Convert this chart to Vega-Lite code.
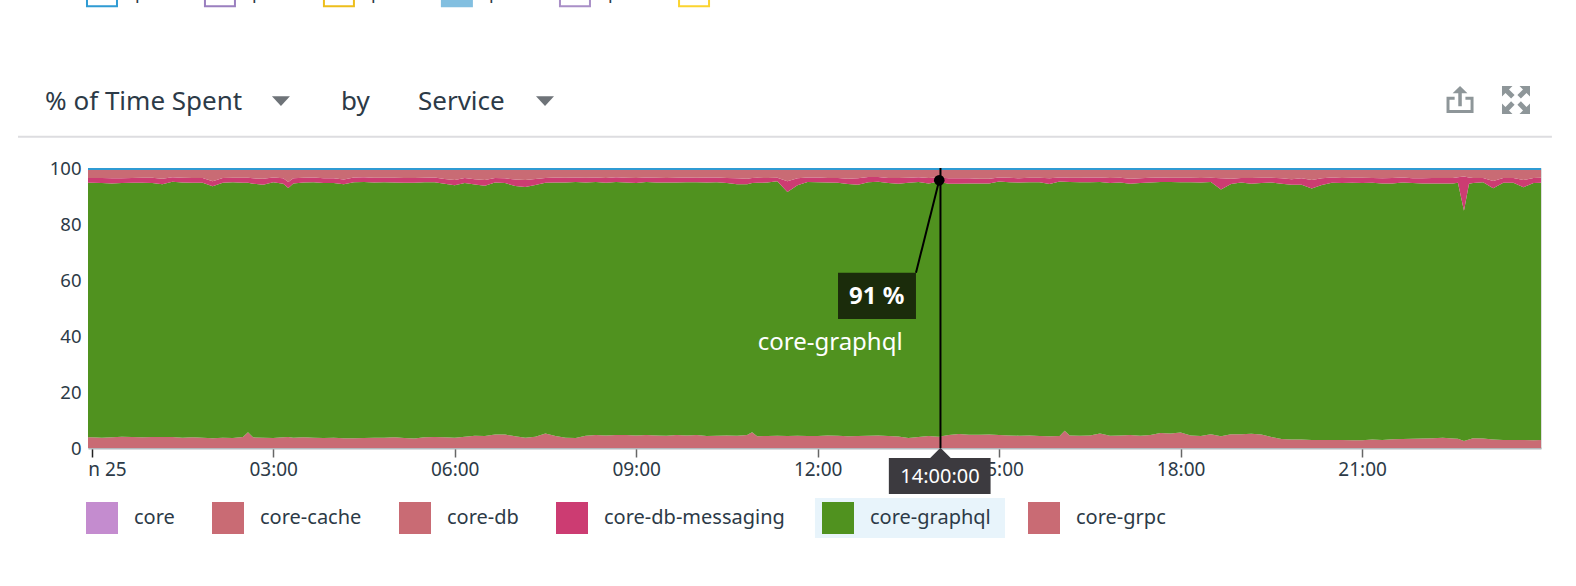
{
  "$schema": "https://vega.github.io/schema/vega-lite/v6.json",
  "autosize": "none",
  "padding": {"left": 88, "top": 168, "right": 35, "bottom": 138},
  "width": 1453,
  "height": 280,
  "encoding": {
    "x": {
      "field": "time",
      "type": "temporal",
      "title": null,
      "scale": {"domain": [
        {"year": 2021, "month": 1, "date": 24, "hours": 23, "minutes": 56, "seconds": 20},
        {"year": 2021, "month": 1, "date": 25, "hours": 23, "minutes": 57, "seconds": 24}
      ]},
      "axis": {
        "values": [
          {"year": 2021, "month": 1, "date": 25, "hours": 0},
          {"year": 2021, "month": 1, "date": 25, "hours": 3},
          {"year": 2021, "month": 1, "date": 25, "hours": 6},
          {"year": 2021, "month": 1, "date": 25, "hours": 9},
          {"year": 2021, "month": 1, "date": 25, "hours": 12},
          {"year": 2021, "month": 1, "date": 25, "hours": 15},
          {"year": 2021, "month": 1, "date": 25, "hours": 18},
          {"year": 2021, "month": 1, "date": 25, "hours": 21}
        ],
        "grid": false,
        "labelExpr": "hours(datum.value) == 0 ? 'n 25' : timeFormat(datum.value, '%H:%M')",
        "labelAlign": {"condition": {"test": "hours(datum.value) == 0", "value": "left"}, "value": "center"},
        "labelOffset": {"condition": {"test": "hours(datum.value) == 0", "value": -4}, "value": 0},
        "labelFont": "Noto Sans",
        "labelFontSize": 19,
        "labelColor": "#2C3A47",
        "labelPadding": 3,
        "labelFlush": false,
        "labelOverlap": false,
        "tickSize": 9,
        "tickWidth": 1.5,
        "tickColor": {"condition": {"test": "hours(datum.value) == 0", "value": "#222222"}, "value": "#666666"},
        "domainColor": "#B4B7BD",
        "domainWidth": 2
      }
    },
    "y": {
      "field": "pct",
      "type": "quantitative",
      "title": null,
      "scale": {"domain": [0, 100], "nice": false},
      "axis": {
        "values": [0, 20, 40, 60, 80, 100],
        "grid": false,
        "domain": false,
        "ticks": false,
        "labelFont": "Noto Sans",
        "labelFontSize": 18.5,
        "labelColor": "#2C3A47",
        "labelPadding": 7,
        "labelFlush": false
      }
    }
  },
  "layer": [
    {
      "data": {"format": {"parse": {"time2": "date"}}, "values": [{"time": "2021-01-25T11:57:18", "time2": "2021-01-25T15:05:48", "pct": -17.9, "pct2": -32.1}]},
      "mark": {"type": "rect", "color": "#E8F4FB", "clip": false},
      "encoding": {"x2": {"field": "time2"}, "y2": {"field": "pct2"}}
    },
    {
      "data": {"values": [
      {"time":"2021-01-24T23:50","core-grpc":3.8,"core-graphql":90.9,"core-db-messaging":1.7,"core-cache":2.9,"all-other":0.7},
      {"time":"2021-01-25T00:00","core-grpc":3.8,"core-graphql":90.9,"core-db-messaging":1.7,"core-cache":2.9,"all-other":0.7},
      {"time":"2021-01-25T00:10","core-grpc":3.7,"core-graphql":90.9,"core-db-messaging":1.8,"core-cache":2.9,"all-other":0.7},
      {"time":"2021-01-25T00:20","core-grpc":3.8,"core-graphql":90.7,"core-db-messaging":1.8,"core-cache":3.0,"all-other":0.7},
      {"time":"2021-01-25T00:30","core-grpc":4.0,"core-graphql":90.6,"core-db-messaging":1.7,"core-cache":3.0,"all-other":0.7},
      {"time":"2021-01-25T00:40","core-grpc":3.9,"core-graphql":90.8,"core-db-messaging":1.7,"core-cache":2.9,"all-other":0.7},
      {"time":"2021-01-25T00:50","core-grpc":3.8,"core-graphql":90.9,"core-db-messaging":1.8,"core-cache":2.8,"all-other":0.7},
      {"time":"2021-01-25T01:00","core-grpc":3.9,"core-graphql":90.7,"core-db-messaging":1.9,"core-cache":2.8,"all-other":0.7},
      {"time":"2021-01-25T01:10","core-grpc":3.9,"core-graphql":90.3,"core-db-messaging":2.0,"core-cache":3.1,"all-other":0.7},
      {"time":"2021-01-25T01:20","core-grpc":3.9,"core-graphql":91.2,"core-db-messaging":1.6,"core-cache":2.6,"all-other":0.7},
      {"time":"2021-01-25T01:30","core-grpc":3.7,"core-graphql":91.1,"core-db-messaging":1.7,"core-cache":2.8,"all-other":0.7},
      {"time":"2021-01-25T01:40","core-grpc":3.8,"core-graphql":90.9,"core-db-messaging":1.7,"core-cache":2.9,"all-other":0.7},
      {"time":"2021-01-25T01:50","core-grpc":3.7,"core-graphql":91.0,"core-db-messaging":1.7,"core-cache":2.9,"all-other":0.7},
      {"time":"2021-01-25T02:00","core-grpc":3.5,"core-graphql":90.0,"core-db-messaging":1.8,"core-cache":4.0,"all-other":0.7},
      {"time":"2021-01-25T02:10","core-grpc":3.7,"core-graphql":91.0,"core-db-messaging":1.7,"core-cache":2.9,"all-other":0.7},
      {"time":"2021-01-25T02:20","core-grpc":3.6,"core-graphql":91.3,"core-db-messaging":1.6,"core-cache":2.8,"all-other":0.7},
      {"time":"2021-01-25T02:30","core-grpc":3.9,"core-graphql":90.8,"core-db-messaging":1.8,"core-cache":2.8,"all-other":0.7},
      {"time":"2021-01-25T02:35","core-grpc":5.6,"core-graphql":89.1,"core-db-messaging":1.8,"core-cache":2.8,"all-other":0.7},
      {"time":"2021-01-25T02:40","core-grpc":3.8,"core-graphql":90.6,"core-db-messaging":1.9,"core-cache":3.0,"all-other":0.7},
      {"time":"2021-01-25T02:50","core-grpc":3.7,"core-graphql":90.3,"core-db-messaging":2.2,"core-cache":3.1,"all-other":0.7},
      {"time":"2021-01-25T03:00","core-grpc":3.6,"core-graphql":91.3,"core-db-messaging":1.7,"core-cache":2.7,"all-other":0.7},
      {"time":"2021-01-25T03:10","core-grpc":3.8,"core-graphql":90.6,"core-db-messaging":1.9,"core-cache":3.0,"all-other":0.7},
      {"time":"2021-01-25T03:15","core-grpc":3.9,"core-graphql":89.0,"core-db-messaging":2.1,"core-cache":4.3,"all-other":0.7},
      {"time":"2021-01-25T03:20","core-grpc":3.7,"core-graphql":90.8,"core-db-messaging":1.8,"core-cache":3.0,"all-other":0.7},
      {"time":"2021-01-25T03:30","core-grpc":3.8,"core-graphql":91.0,"core-db-messaging":1.7,"core-cache":2.8,"all-other":0.7},
      {"time":"2021-01-25T03:40","core-grpc":3.7,"core-graphql":91.2,"core-db-messaging":1.7,"core-cache":2.7,"all-other":0.7},
      {"time":"2021-01-25T03:50","core-grpc":3.6,"core-graphql":91.0,"core-db-messaging":1.7,"core-cache":3.0,"all-other":0.7},
      {"time":"2021-01-25T04:00","core-grpc":3.7,"core-graphql":90.9,"core-db-messaging":1.7,"core-cache":3.0,"all-other":0.7},
      {"time":"2021-01-25T04:10","core-grpc":3.5,"core-graphql":90.7,"core-db-messaging":1.7,"core-cache":3.4,"all-other":0.7},
      {"time":"2021-01-25T04:20","core-grpc":3.5,"core-graphql":91.4,"core-db-messaging":1.7,"core-cache":2.7,"all-other":0.7},
      {"time":"2021-01-25T04:30","core-grpc":3.6,"core-graphql":91.4,"core-db-messaging":1.7,"core-cache":2.6,"all-other":0.7},
      {"time":"2021-01-25T04:40","core-grpc":3.7,"core-graphql":91.1,"core-db-messaging":1.7,"core-cache":2.8,"all-other":0.7},
      {"time":"2021-01-25T04:50","core-grpc":3.7,"core-graphql":91.2,"core-db-messaging":1.6,"core-cache":2.8,"all-other":0.7},
      {"time":"2021-01-25T05:00","core-grpc":3.8,"core-graphql":91.0,"core-db-messaging":1.7,"core-cache":2.8,"all-other":0.7},
      {"time":"2021-01-25T05:10","core-grpc":3.6,"core-graphql":91.1,"core-db-messaging":1.7,"core-cache":2.9,"all-other":0.7},
      {"time":"2021-01-25T05:20","core-grpc":3.4,"core-graphql":91.3,"core-db-messaging":1.7,"core-cache":2.9,"all-other":0.7},
      {"time":"2021-01-25T05:30","core-grpc":3.8,"core-graphql":91.1,"core-db-messaging":1.6,"core-cache":2.8,"all-other":0.7},
      {"time":"2021-01-25T05:40","core-grpc":3.9,"core-graphql":91.0,"core-db-messaging":1.7,"core-cache":2.7,"all-other":0.7},
      {"time":"2021-01-25T05:50","core-grpc":3.8,"core-graphql":90.6,"core-db-messaging":1.7,"core-cache":3.2,"all-other":0.7},
      {"time":"2021-01-25T06:00","core-grpc":3.7,"core-graphql":90.1,"core-db-messaging":1.9,"core-cache":3.6,"all-other":0.7},
      {"time":"2021-01-25T06:10","core-grpc":4.0,"core-graphql":90.6,"core-db-messaging":1.8,"core-cache":2.9,"all-other":0.7},
      {"time":"2021-01-25T06:20","core-grpc":4.4,"core-graphql":89.7,"core-db-messaging":1.9,"core-cache":3.3,"all-other":0.7},
      {"time":"2021-01-25T06:30","core-grpc":4.3,"core-graphql":89.4,"core-db-messaging":2.0,"core-cache":3.6,"all-other":0.7},
      {"time":"2021-01-25T06:40","core-grpc":4.8,"core-graphql":90.0,"core-db-messaging":1.6,"core-cache":2.9,"all-other":0.7},
      {"time":"2021-01-25T06:50","core-grpc":4.8,"core-graphql":89.8,"core-db-messaging":1.7,"core-cache":3.0,"all-other":0.7},
      {"time":"2021-01-25T07:00","core-grpc":4.2,"core-graphql":89.4,"core-db-messaging":2.3,"core-cache":3.4,"all-other":0.7},
      {"time":"2021-01-25T07:10","core-grpc":3.7,"core-graphql":89.5,"core-db-messaging":2.5,"core-cache":3.6,"all-other":0.7},
      {"time":"2021-01-25T07:20","core-grpc":4.0,"core-graphql":89.9,"core-db-messaging":2.2,"core-cache":3.2,"all-other":0.7},
      {"time":"2021-01-25T07:30","core-grpc":5.2,"core-graphql":89.5,"core-db-messaging":1.7,"core-cache":2.9,"all-other":0.7},
      {"time":"2021-01-25T07:40","core-grpc":4.3,"core-graphql":90.5,"core-db-messaging":1.8,"core-cache":2.7,"all-other":0.7},
      {"time":"2021-01-25T07:50","core-grpc":3.7,"core-graphql":91.1,"core-db-messaging":1.7,"core-cache":2.8,"all-other":0.7},
      {"time":"2021-01-25T08:00","core-grpc":3.6,"core-graphql":91.4,"core-db-messaging":1.6,"core-cache":2.7,"all-other":0.7},
      {"time":"2021-01-25T08:10","core-grpc":4.4,"core-graphql":90.4,"core-db-messaging":1.7,"core-cache":2.8,"all-other":0.7},
      {"time":"2021-01-25T08:20","core-grpc":4.6,"core-graphql":90.4,"core-db-messaging":1.6,"core-cache":2.7,"all-other":0.7},
      {"time":"2021-01-25T08:30","core-grpc":4.5,"core-graphql":90.2,"core-db-messaging":1.7,"core-cache":2.9,"all-other":0.7},
      {"time":"2021-01-25T08:40","core-grpc":4.6,"core-graphql":90.4,"core-db-messaging":1.7,"core-cache":2.6,"all-other":0.7},
      {"time":"2021-01-25T08:50","core-grpc":4.6,"core-graphql":90.2,"core-db-messaging":1.7,"core-cache":2.8,"all-other":0.7},
      {"time":"2021-01-25T09:00","core-grpc":4.5,"core-graphql":90.1,"core-db-messaging":1.8,"core-cache":2.9,"all-other":0.7},
      {"time":"2021-01-25T09:10","core-grpc":4.6,"core-graphql":90.4,"core-db-messaging":1.6,"core-cache":2.7,"all-other":0.7},
      {"time":"2021-01-25T09:20","core-grpc":4.5,"core-graphql":90.3,"core-db-messaging":1.7,"core-cache":2.8,"all-other":0.7},
      {"time":"2021-01-25T09:30","core-grpc":4.4,"core-graphql":90.4,"core-db-messaging":1.6,"core-cache":2.9,"all-other":0.7},
      {"time":"2021-01-25T09:40","core-grpc":4.6,"core-graphql":90.2,"core-db-messaging":1.7,"core-cache":2.8,"all-other":0.7},
      {"time":"2021-01-25T09:50","core-grpc":4.5,"core-graphql":90.4,"core-db-messaging":1.7,"core-cache":2.7,"all-other":0.7},
      {"time":"2021-01-25T10:00","core-grpc":4.6,"core-graphql":90.3,"core-db-messaging":1.6,"core-cache":2.8,"all-other":0.7},
      {"time":"2021-01-25T10:10","core-grpc":4.3,"core-graphql":90.5,"core-db-messaging":1.8,"core-cache":2.7,"all-other":0.7},
      {"time":"2021-01-25T10:20","core-grpc":4.4,"core-graphql":90.5,"core-db-messaging":1.7,"core-cache":2.7,"all-other":0.7},
      {"time":"2021-01-25T10:30","core-grpc":4.5,"core-graphql":90.1,"core-db-messaging":1.8,"core-cache":2.9,"all-other":0.7},
      {"time":"2021-01-25T10:40","core-grpc":4.4,"core-graphql":89.8,"core-db-messaging":2.1,"core-cache":3.0,"all-other":0.7},
      {"time":"2021-01-25T10:50","core-grpc":4.6,"core-graphql":89.6,"core-db-messaging":2.0,"core-cache":3.1,"all-other":0.7},
      {"time":"2021-01-25T10:55","core-grpc":5.6,"core-graphql":89.0,"core-db-messaging":1.8,"core-cache":2.9,"all-other":0.7},
      {"time":"2021-01-25T11:00","core-grpc":4.2,"core-graphql":90.5,"core-db-messaging":1.8,"core-cache":2.8,"all-other":0.7},
      {"time":"2021-01-25T11:10","core-grpc":4.3,"core-graphql":90.5,"core-db-messaging":1.6,"core-cache":2.9,"all-other":0.7},
      {"time":"2021-01-25T11:20","core-grpc":4.4,"core-graphql":90.9,"core-db-messaging":1.2,"core-cache":2.8,"all-other":0.7},
      {"time":"2021-01-25T11:30","core-grpc":4.3,"core-graphql":87.1,"core-db-messaging":3.9,"core-cache":4.0,"all-other":0.7},
      {"time":"2021-01-25T11:40","core-grpc":4.4,"core-graphql":89.4,"core-db-messaging":2.5,"core-cache":3.0,"all-other":0.7},
      {"time":"2021-01-25T11:50","core-grpc":4.3,"core-graphql":90.7,"core-db-messaging":1.6,"core-cache":2.7,"all-other":0.7},
      {"time":"2021-01-25T12:00","core-grpc":4.3,"core-graphql":90.6,"core-db-messaging":1.7,"core-cache":2.7,"all-other":0.7},
      {"time":"2021-01-25T12:10","core-grpc":4.5,"core-graphql":90.3,"core-db-messaging":1.6,"core-cache":2.9,"all-other":0.7},
      {"time":"2021-01-25T12:20","core-grpc":4.4,"core-graphql":90.3,"core-db-messaging":1.7,"core-cache":2.9,"all-other":0.7},
      {"time":"2021-01-25T12:30","core-grpc":4.2,"core-graphql":90.1,"core-db-messaging":1.9,"core-cache":3.1,"all-other":0.7},
      {"time":"2021-01-25T12:40","core-grpc":4.3,"core-graphql":89.7,"core-db-messaging":2.3,"core-cache":3.0,"all-other":0.7},
      {"time":"2021-01-25T12:50","core-grpc":4.4,"core-graphql":90.5,"core-db-messaging":1.9,"core-cache":2.5,"all-other":0.7},
      {"time":"2021-01-25T13:00","core-grpc":4.5,"core-graphql":90.6,"core-db-messaging":1.7,"core-cache":2.5,"all-other":0.7},
      {"time":"2021-01-25T13:10","core-grpc":4.3,"core-graphql":90.3,"core-db-messaging":1.8,"core-cache":2.9,"all-other":0.7},
      {"time":"2021-01-25T13:20","core-grpc":4.1,"core-graphql":90.3,"core-db-messaging":2.0,"core-cache":2.9,"all-other":0.7},
      {"time":"2021-01-25T13:30","core-grpc":3.6,"core-graphql":91.1,"core-db-messaging":1.8,"core-cache":2.8,"all-other":0.7},
      {"time":"2021-01-25T13:40","core-grpc":3.9,"core-graphql":91.1,"core-db-messaging":1.7,"core-cache":2.6,"all-other":0.7},
      {"time":"2021-01-25T13:50","core-grpc":4.3,"core-graphql":90.2,"core-db-messaging":1.9,"core-cache":2.9,"all-other":0.7},
      {"time":"2021-01-25T14:00","core-grpc":4.0,"core-graphql":91.1,"core-db-messaging":1.5,"core-cache":2.7,"all-other":0.7},
      {"time":"2021-01-25T14:10","core-grpc":4.6,"core-graphql":89.8,"core-db-messaging":1.9,"core-cache":3.0,"all-other":0.7},
      {"time":"2021-01-25T14:20","core-grpc":5.0,"core-graphql":89.4,"core-db-messaging":1.9,"core-cache":3.0,"all-other":0.7},
      {"time":"2021-01-25T14:30","core-grpc":4.7,"core-graphql":89.8,"core-db-messaging":1.8,"core-cache":3.0,"all-other":0.7},
      {"time":"2021-01-25T14:40","core-grpc":4.7,"core-graphql":89.8,"core-db-messaging":1.7,"core-cache":3.1,"all-other":0.7},
      {"time":"2021-01-25T14:50","core-grpc":4.8,"core-graphql":89.7,"core-db-messaging":1.7,"core-cache":3.1,"all-other":0.7},
      {"time":"2021-01-25T15:00","core-grpc":4.6,"core-graphql":90.6,"core-db-messaging":1.4,"core-cache":2.7,"all-other":0.7},
      {"time":"2021-01-25T15:10","core-grpc":4.5,"core-graphql":90.4,"core-db-messaging":1.6,"core-cache":2.8,"all-other":0.7},
      {"time":"2021-01-25T15:20","core-grpc":4.4,"core-graphql":90.4,"core-db-messaging":1.5,"core-cache":3.0,"all-other":0.7},
      {"time":"2021-01-25T15:30","core-grpc":4.5,"core-graphql":90.4,"core-db-messaging":1.6,"core-cache":2.8,"all-other":0.7},
      {"time":"2021-01-25T15:40","core-grpc":4.3,"core-graphql":90.6,"core-db-messaging":1.6,"core-cache":2.8,"all-other":0.7},
      {"time":"2021-01-25T15:50","core-grpc":4.2,"core-graphql":90.1,"core-db-messaging":2.0,"core-cache":3.0,"all-other":0.7},
      {"time":"2021-01-25T16:00","core-grpc":4.3,"core-graphql":90.9,"core-db-messaging":1.4,"core-cache":2.7,"all-other":0.7},
      {"time":"2021-01-25T16:05","core-grpc":6.2,"core-graphql":88.9,"core-db-messaging":1.5,"core-cache":2.7,"all-other":0.7},
      {"time":"2021-01-25T16:10","core-grpc":4.5,"core-graphql":90.5,"core-db-messaging":1.5,"core-cache":2.8,"all-other":0.7},
      {"time":"2021-01-25T16:20","core-grpc":4.4,"core-graphql":90.5,"core-db-messaging":1.6,"core-cache":2.8,"all-other":0.7},
      {"time":"2021-01-25T16:30","core-grpc":4.5,"core-graphql":90.4,"core-db-messaging":1.7,"core-cache":2.7,"all-other":0.7},
      {"time":"2021-01-25T16:40","core-grpc":5.2,"core-graphql":89.8,"core-db-messaging":1.6,"core-cache":2.7,"all-other":0.7},
      {"time":"2021-01-25T16:50","core-grpc":4.4,"core-graphql":90.2,"core-db-messaging":1.8,"core-cache":2.9,"all-other":0.7},
      {"time":"2021-01-25T17:00","core-grpc":4.5,"core-graphql":90.3,"core-db-messaging":1.7,"core-cache":2.8,"all-other":0.7},
      {"time":"2021-01-25T17:10","core-grpc":4.6,"core-graphql":89.8,"core-db-messaging":1.8,"core-cache":3.1,"all-other":0.7},
      {"time":"2021-01-25T17:20","core-grpc":4.4,"core-graphql":90.2,"core-db-messaging":1.7,"core-cache":3.0,"all-other":0.7},
      {"time":"2021-01-25T17:30","core-grpc":4.6,"core-graphql":90.2,"core-db-messaging":1.7,"core-cache":2.8,"all-other":0.7},
      {"time":"2021-01-25T17:40","core-grpc":5.4,"core-graphql":89.6,"core-db-messaging":1.6,"core-cache":2.7,"all-other":0.7},
      {"time":"2021-01-25T17:50","core-grpc":5.2,"core-graphql":89.8,"core-db-messaging":1.5,"core-cache":2.8,"all-other":0.7},
      {"time":"2021-01-25T18:00","core-grpc":5.5,"core-graphql":89.4,"core-db-messaging":1.6,"core-cache":2.8,"all-other":0.7},
      {"time":"2021-01-25T18:10","core-grpc":4.5,"core-graphql":90.4,"core-db-messaging":1.6,"core-cache":2.8,"all-other":0.7},
      {"time":"2021-01-25T18:20","core-grpc":4.3,"core-graphql":90.5,"core-db-messaging":1.6,"core-cache":2.9,"all-other":0.7},
      {"time":"2021-01-25T18:30","core-grpc":4.9,"core-graphql":90.1,"core-db-messaging":1.5,"core-cache":2.8,"all-other":0.7},
      {"time":"2021-01-25T18:40","core-grpc":4.2,"core-graphql":88.1,"core-db-messaging":4.0,"core-cache":3.0,"all-other":0.7},
      {"time":"2021-01-25T18:50","core-grpc":4.9,"core-graphql":89.4,"core-db-messaging":1.9,"core-cache":3.1,"all-other":0.7},
      {"time":"2021-01-25T19:00","core-grpc":4.9,"core-graphql":89.9,"core-db-messaging":1.6,"core-cache":2.9,"all-other":0.7},
      {"time":"2021-01-25T19:10","core-grpc":5.1,"core-graphql":89.3,"core-db-messaging":2.0,"core-cache":2.9,"all-other":0.7},
      {"time":"2021-01-25T19:20","core-grpc":4.8,"core-graphql":89.8,"core-db-messaging":1.9,"core-cache":2.8,"all-other":0.7},
      {"time":"2021-01-25T19:30","core-grpc":3.9,"core-graphql":90.9,"core-db-messaging":1.7,"core-cache":2.8,"all-other":0.7},
      {"time":"2021-01-25T19:40","core-grpc":3.2,"core-graphql":91.2,"core-db-messaging":1.9,"core-cache":3.0,"all-other":0.7},
      {"time":"2021-01-25T19:50","core-grpc":3.0,"core-graphql":91.0,"core-db-messaging":2.0,"core-cache":3.3,"all-other":0.7},
      {"time":"2021-01-25T20:00","core-grpc":3.0,"core-graphql":91.0,"core-db-messaging":2.3,"core-cache":3.0,"all-other":0.7},
      {"time":"2021-01-25T20:10","core-grpc":2.9,"core-graphql":89.8,"core-db-messaging":3.0,"core-cache":3.6,"all-other":0.7},
      {"time":"2021-01-25T20:20","core-grpc":2.9,"core-graphql":91.0,"core-db-messaging":2.4,"core-cache":3.0,"all-other":0.7},
      {"time":"2021-01-25T20:30","core-grpc":2.9,"core-graphql":91.8,"core-db-messaging":1.9,"core-cache":2.7,"all-other":0.7},
      {"time":"2021-01-25T20:40","core-grpc":2.9,"core-graphql":91.7,"core-db-messaging":1.8,"core-cache":2.9,"all-other":0.7},
      {"time":"2021-01-25T20:50","core-grpc":2.8,"core-graphql":91.9,"core-db-messaging":1.8,"core-cache":2.8,"all-other":0.7},
      {"time":"2021-01-25T21:00","core-grpc":2.8,"core-graphql":91.8,"core-db-messaging":1.9,"core-cache":2.8,"all-other":0.7},
      {"time":"2021-01-25T21:10","core-grpc":3.0,"core-graphql":91.7,"core-db-messaging":1.7,"core-cache":2.9,"all-other":0.7},
      {"time":"2021-01-25T21:20","core-grpc":2.9,"core-graphql":91.6,"core-db-messaging":1.8,"core-cache":3.0,"all-other":0.7},
      {"time":"2021-01-25T21:30","core-grpc":3.1,"core-graphql":91.4,"core-db-messaging":1.9,"core-cache":2.9,"all-other":0.7},
      {"time":"2021-01-25T21:40","core-grpc":3.2,"core-graphql":91.6,"core-db-messaging":1.8,"core-cache":2.7,"all-other":0.7},
      {"time":"2021-01-25T21:50","core-grpc":3.3,"core-graphql":91.3,"core-db-messaging":1.7,"core-cache":3.0,"all-other":0.7},
      {"time":"2021-01-25T22:00","core-grpc":3.4,"core-graphql":91.1,"core-db-messaging":1.8,"core-cache":3.0,"all-other":0.7},
      {"time":"2021-01-25T22:10","core-grpc":3.5,"core-graphql":91.0,"core-db-messaging":1.9,"core-cache":2.9,"all-other":0.7},
      {"time":"2021-01-25T22:20","core-grpc":3.7,"core-graphql":90.8,"core-db-messaging":1.9,"core-cache":2.9,"all-other":0.7},
      {"time":"2021-01-25T22:30","core-grpc":3.4,"core-graphql":91.1,"core-db-messaging":1.9,"core-cache":2.9,"all-other":0.7},
      {"time":"2021-01-25T22:35","core-grpc":3.3,"core-graphql":91.4,"core-db-messaging":2.0,"core-cache":2.6,"all-other":0.7},
      {"time":"2021-01-25T22:41","core-grpc":2.5,"core-graphql":82.2,"core-db-messaging":12.3,"core-cache":2.3,"all-other":0.7},
      {"time":"2021-01-25T22:46","core-grpc":3.0,"core-graphql":91.4,"core-db-messaging":2.2,"core-cache":2.7,"all-other":0.7},
      {"time":"2021-01-25T22:50","core-grpc":3.5,"core-graphql":91.1,"core-db-messaging":1.8,"core-cache":2.9,"all-other":0.7},
      {"time":"2021-01-25T23:00","core-grpc":3.4,"core-graphql":91.5,"core-db-messaging":1.5,"core-cache":2.9,"all-other":0.7},
      {"time":"2021-01-25T23:10","core-grpc":3.0,"core-graphql":89.8,"core-db-messaging":2.6,"core-cache":3.9,"all-other":0.7},
      {"time":"2021-01-25T23:20","core-grpc":2.9,"core-graphql":91.8,"core-db-messaging":1.7,"core-cache":2.9,"all-other":0.7},
      {"time":"2021-01-25T23:30","core-grpc":2.9,"core-graphql":91.8,"core-db-messaging":1.7,"core-cache":2.9,"all-other":0.7},
      {"time":"2021-01-25T23:40","core-grpc":2.9,"core-graphql":90.2,"core-db-messaging":2.6,"core-cache":3.6,"all-other":0.7},
      {"time":"2021-01-25T23:50","core-grpc":2.8,"core-graphql":91.8,"core-db-messaging":1.8,"core-cache":2.9,"all-other":0.7},
      {"time":"2021-01-26T00:00","core-grpc":2.9,"core-graphql":91.9,"core-db-messaging":1.7,"core-cache":2.8,"all-other":0.7}
      ]},
      "transform": [
        {"fold": ["core-grpc", "core-graphql", "core-db-messaging", "core-cache", "all-other"], "as": ["service", "value"]}
      ],
      "mark": {"type": "area", "clip": true, "interpolate": "linear"},
      "encoding": {
        "y": {"field": "value", "type": "quantitative", "stack": "zero", "title": null, "scale": {"domain": [0, 100], "nice": false}},
        "color": {
          "field": "service",
          "type": "nominal",
          "scale": {
            "domain": ["core", "core-cache", "core-db", "core-db-messaging", "core-graphql", "core-grpc", "all-other"],
            "range": ["#C48CCF", "#C96B74", "#C96B74", "#CC3C72", "#50921F", "#C96B74", "#2F9BD3"]
          },
          "legend": {
            "values": ["core", "core-cache", "core-db", "core-db-messaging", "core-graphql", "core-grpc"],
            "title": null,
            "orient": "none",
            "legendX": -2,
            "legendY": 334,
            "direction": "horizontal",
            "columns": 6,
            "gridAlign": "each",
            "columnPadding": 37,
            "padding": 0,
            "symbolType": "square",
            "symbolSize": 1024,
            "symbolStrokeWidth": 0,
            "labelOffset": 16,
            "labelFont": "Noto Sans",
            "labelFontSize": 20,
            "labelColor": "#2C3A47",
            "labelLimit": 400
          }
        }
      }
    },
    {
      "data": {"values": [
        {"time": "2021-01-24T23:13:48", "pct": 123.7, "label": "% of Time Spent"},
        {"time": "2021-01-25T04:07:18", "pct": 123.7, "label": "by"},
        {"time": "2021-01-25T05:23:36", "pct": 123.7, "label": "Service"}
      ]},
      "mark": {"type": "text", "align": "left", "baseline": "middle", "font": "Noto Sans", "fontSize": 26, "color": "#2C3A47", "clip": false},
      "encoding": {"text": {"field": "label"}}
    },
    {
      "data": {"values": [
        {"time": "2021-01-25T03:07:42", "pct": 123.9},
        {"time": "2021-01-25T07:29:36", "pct": 123.9}
      ]},
      "mark": {"type": "point", "shape": "M-1,-0.55L1,-0.55L0,0.55Z", "size": 324, "filled": true, "opacity": 1, "color": "#6E7378", "clip": false}
    },
    {
      "data": {"values": [{"time": "2021-01-25T22:37:06", "pct": 124.5}]},
      "mark": {"type": "point", "shape": "M-1,-0.2L-0.4,-0.2L-0.4,0.02L-0.78,0.02L-0.78,0.78L0.78,0.78L0.78,0.02L0.4,0.02L0.4,-0.2L1,-0.2L1,1L-1,1ZM-0.55,-0.45L0,-1L0.55,-0.45L0.13,-0.45L0.13,0.5L-0.13,0.5L-0.13,-0.45Z", "size": 729, "filled": true, "opacity": 1, "color": "#8E9699", "clip": false}
    },
    {
      "data": {"values": [{"time": "2021-01-25T23:32:36", "pct": 124.3}]},
      "mark": {"type": "point", "shape": "M-1,-1L-0.25,-1L-0.5,-0.75L-0.1,-0.35L-0.35,-0.1L-0.75,-0.5L-1,-0.25ZM1,-1L0.25,-1L0.5,-0.75L0.1,-0.35L0.35,-0.1L0.75,-0.5L1,-0.25ZM-1,1L-0.25,1L-0.5,0.75L-0.1,0.35L-0.35,0.1L-0.75,0.5L-1,0.25ZM1,1L0.25,1L0.5,0.75L0.1,0.35L0.35,0.1L0.75,0.5L1,0.25Z", "size": 784, "filled": true, "opacity": 1, "color": "#8E9699", "clip": false}
    },
    {
      "data": {"format": {"parse": {"time2": "date"}}, "values": [{"time": "2021-01-24T22:46:54", "time2": "2021-01-26T00:08:12", "pct": 111.2}]},
      "mark": {"type": "rule", "color": "#DDDDE0", "strokeWidth": 2, "clip": false},
      "encoding": {"x2": {"field": "time2"}}
    },
    {
      "data": {"values": [
        {"time": "2021-01-25T00:10:12", "pct": 163.1, "name": "a"},
        {"time": "2021-01-25T02:07:12", "pct": 163.1, "name": "b"},
        {"time": "2021-01-25T04:05:12", "pct": 163.1, "name": "c"},
        {"time": "2021-01-25T07:59:18", "pct": 163.1, "name": "e"},
        {"time": "2021-01-25T09:57:24", "pct": 163.1, "name": "f"}
      ]},
      "mark": {"type": "point", "shape": "square", "size": 900, "filled": false, "opacity": 1, "strokeWidth": 2, "clip": false},
      "encoding": {
        "stroke": {
          "field": "name",
          "type": "nominal",
          "legend": null,
          "scale": {"domain": ["a", "b", "c", "e", "f"], "range": ["#2F9BD3", "#9A7FBF", "#EDBE1C", "#A98FC7", "#FBD42F"]}
        }
      }
    },
    {
      "data": {"values": [{"time": "2021-01-25T06:02:12", "pct": 163.1}]},
      "mark": {"type": "point", "shape": "square", "size": 1024, "filled": true, "opacity": 1, "color": "#82BFE0", "clip": false}
    },
    {
      "data": {"values": [
        {"time": "2021-01-25T00:42:54", "pct": 160.4, "label": "p"},
        {"time": "2021-01-25T02:39:00", "pct": 160.4, "label": "p"},
        {"time": "2021-01-25T04:37:00", "pct": 160.4, "label": "p"},
        {"time": "2021-01-25T06:34:00", "pct": 160.4, "label": "p"},
        {"time": "2021-01-25T08:32:06", "pct": 160.4, "label": "p"}
      ]},
      "mark": {"type": "text", "align": "left", "baseline": "alphabetic", "font": "Noto Sans", "fontSize": 18, "color": "#2C3A47", "clip": false},
      "encoding": {"text": {"field": "label"}}
    },
    {
      "data": {"values": [{"time": "2021-01-25T14:01:48", "pct": 100, "pct2": 0}]},
      "mark": {"type": "rule", "color": "#000000", "strokeWidth": 2, "clip": false},
      "encoding": {"y2": {"field": "pct2"}}
    },
    {
      "data": {"format": {"parse": {"time2": "date"}}, "values": [{"time": "2021-01-25T14:00:36", "time2": "2021-01-25T13:37:30", "pct": 95.6, "pct2": 62.6}]},
      "mark": {"type": "rule", "color": "#000000", "strokeWidth": 2, "clip": false},
      "encoding": {"x2": {"field": "time2"}, "y2": {"field": "pct2"}}
    },
    {
      "data": {"values": [{"time": "2021-01-25T14:00:36", "pct": 95.6}]},
      "mark": {"type": "point", "shape": "circle", "size": 113, "filled": true, "opacity": 1, "color": "#000000", "clip": false}
    },
    {
      "data": {"format": {"parse": {"time2": "date"}}, "values": [{"time": "2021-01-25T12:20:12", "time2": "2021-01-25T13:37:30", "pct": 62.6, "pct2": 46.1}]},
      "mark": {"type": "rect", "color": "#1B2C0B", "clip": false},
      "encoding": {"x2": {"field": "time2"}, "y2": {"field": "pct2"}}
    },
    {
      "data": {"values": [{"time": "2021-01-25T12:58:30", "pct": 54, "label": "91 %"}]},
      "mark": {"type": "text", "align": "center", "baseline": "middle", "font": "Noto Sans", "fontSize": 24, "fontWeight": "bold", "color": "#FFFFFF", "clip": false},
      "encoding": {"text": {"field": "label"}}
    },
    {
      "data": {"values": [{"time": "2021-01-25T13:24:18", "pct": 37.5, "label": "core-graphql"}]},
      "mark": {"type": "text", "align": "right", "baseline": "middle", "font": "Noto Sans", "fontSize": 24, "color": "#FFFFFF", "clip": false},
      "encoding": {"text": {"field": "label"}}
    },
    {
      "data": {"format": {"parse": {"time2": "date"}}, "values": [{"time": "2021-01-25T13:10:36", "time2": "2021-01-25T14:51:30", "pct": -3.6, "pct2": -16.4}]},
      "mark": {"type": "rect", "color": "#3C3A3F", "clip": false},
      "encoding": {"x2": {"field": "time2"}, "y2": {"field": "pct2"}}
    },
    {
      "data": {"values": [{"time": "2021-01-25T14:01:48", "pct": -1.8}]},
      "mark": {"type": "point", "shape": "M-1,0.5L1,0.5L0,-0.5Z", "size": 441, "filled": true, "opacity": 1, "color": "#3C3A3F", "clip": false}
    },
    {
      "data": {"values": [{"time": "2021-01-25T14:01:18", "pct": -10.25, "label": "14:00:00"}]},
      "mark": {"type": "text", "align": "center", "baseline": "middle", "font": "Noto Sans", "fontSize": 20, "color": "#FFFFFF", "clip": false},
      "encoding": {"text": {"field": "label"}}
    }
  ]
}
